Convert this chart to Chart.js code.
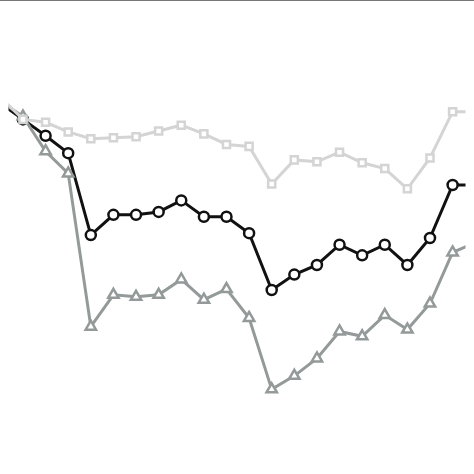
<!DOCTYPE html>
<html>
<head>
<script src="https://cdn.jsdelivr.net/npm/chart.js@4"></script>
<style>
  html, body { margin: 0; padding: 0; background: #fff; }
  #wrap { width: 474px; height: 474px; position: relative; border-top: 1px solid #777; box-sizing: border-box; }
</style>
</head>
<body>
<div id="wrap"><canvas id="chart" width="474" height="473"></canvas></div>
<script>
// step index (first and last are just outside the visible window)
const steps = [-1, 0, 1, 2, 3, 4, 5, 6, 7, 8, 9, 10, 11, 12, 13, 14, 15, 16, 17, 18, 19, 20];

const blackSeries = [376, 359, 342, 324, 239, 260, 260, 263, 275, 258, 258, 241, 182, 198, 208, 229, 218, 229, 208, 236, 291, 291];
const lightSeries = [382, 359, 356, 346, 339, 340, 341, 347, 353, 344, 333, 331, 292, 317, 315, 325, 314, 308, 287, 319, 367, 367];
const graySeries  = [378, 362, 326, 303, 144, 177, 175, 177, 193, 172, 183, 153, 79, 93, 111, 139, 134, 156, 141, 168, 221, 231];

function toPoints(vals) {
  return vals.map((v, i) => ({ x: steps[i], y: v }));
}

new Chart(document.getElementById("chart"), {
  type: "line",
  data: {
    datasets: [
      {
        data: toPoints(lightSeries),
        borderColor: "#d4d4d4",
        borderWidth: 3,
        pointStyle: "rect",
        pointRadius: 5,
        pointBorderWidth: 2.5,
        pointBackgroundColor: "#fff",
        pointBorderColor: "#d4d4d4"
      },
      {
        data: toPoints(graySeries),
        borderColor: "#949a99",
        borderWidth: 3,
        pointStyle: "triangle",
        pointRadius: 6,
        pointBorderWidth: 2.5,
        pointBackgroundColor: "#fff",
        pointBorderColor: "#949a99"
      },
      {
        data: toPoints(blackSeries),
        borderColor: "#111",
        borderWidth: 3,
        pointStyle: "circle",
        pointRadius: 5,
        pointBorderWidth: 2.5,
        pointBackgroundColor: "#fff",
        pointBorderColor: "#111"
      }
    ]
  },
  options: {
    responsive: false,
    animation: false,
    layout: { padding: 0 },
    plugins: { legend: { display: false }, tooltip: { enabled: false } },
    scales: {
      x: { type: "linear", min: -0.64, max: 19.57, display: false },
      y: { min: 0, max: 473, display: false }
    }
  }
});
</script>
</body>
</html>
